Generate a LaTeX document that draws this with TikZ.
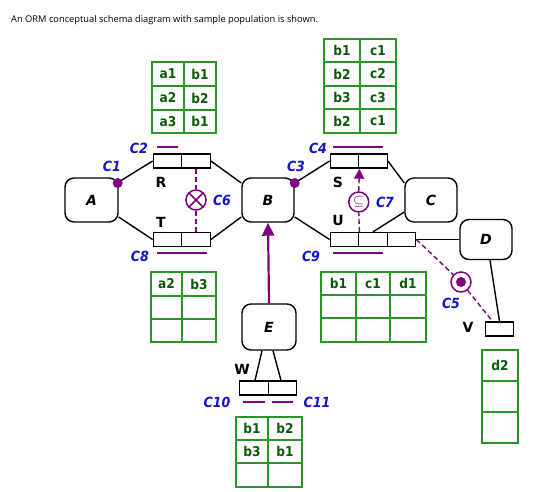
\documentclass[tikz,border=0pt]{standalone}
\usepackage{fontspec}
\setmainfont{DejaVu Sans}
\newfontfamily\titlefont{Open Sans}
\newfontfamily\condfont{DejaVu Sans Condensed}
\usetikzlibrary{arrows.meta,calc}
\definecolor{tabgreen}{RGB}{40,150,40}
\definecolor{txtgreen}{RGB}{10,90,10}
\definecolor{cpurple}{RGB}{128,0,128}
\definecolor{cblue}{RGB}{20,20,200}
\tikzset{
  objtype/.style={draw, rounded corners=9pt, line width=1.4pt, inner sep=0pt,
    font=\bfseries\itshape\fontsize{14}{14}\selectfont},
  role/.style={draw, line width=1.3pt, minimum width=28.5pt, minimum height=14pt, inner sep=0pt},
  conn/.style={line width=1.4pt},
  ucons/.style={cpurple, line width=2pt},
  dcons/.style={cpurple, line width=1.4pt, dash pattern=on 5pt off 3pt},
  clabel/.style={text=cblue, inner sep=0pt, font=\condfont\bfseries\itshape\fontsize{14}{14}\selectfont},
  rname/.style={inner sep=0pt, font=\bfseries\fontsize{14}{14}\selectfont},
  cell/.style={text=txtgreen, inner sep=0pt, font=\condfont\bfseries\fontsize{13.5}{13.5}\selectfont},
  tab/.style={draw=tabgreen, line width=1.5pt},
  mdot/.style={circle, fill=cpurple, minimum size=10pt, inner sep=0pt},
  ccirc/.style={circle, draw=cpurple, line width=1.5pt, minimum size=20pt, inner sep=0pt}
}
\begin{document}
\begin{tikzpicture}[x=1pt,y=-1pt]
\useasboundingbox (0,0) rectangle (548,491);
% title
\node[anchor=west, inner sep=0pt, font=\titlefont\fontsize{9.3}{9.3}\selectfont] (title) at (11,20)
  {An ORM conceptual schema diagram with sample population is shown.};

% object types
\node[objtype, minimum width=53pt, minimum height=44pt] (A) at (91.5,200) {A};
\node[objtype, minimum width=52pt, minimum height=44pt] (B) at (268,200) {B};
\node[objtype, minimum width=52pt, minimum height=44pt] (C) at (431,200) {C};
\node[objtype, minimum width=52pt, minimum height=40pt] (D) at (486,239.5) {D};
\node[objtype, minimum width=54pt, minimum height=46pt] (E) at (269,327) {E};

% roles
\node[role] (R1) at (167.5,161) {};
\node[role] (R2) at (196,161) {};
\node[role] (T1) at (167.5,239.5) {};
\node[role] (T2) at (196,239.5) {};
\node[role] (S1) at (344.5,161) {};
\node[role] (S2) at (373,161) {};
\node[role] (U1) at (344.5,239.5) {};
\node[role] (U2) at (373,239.5) {};
\node[role] (U3) at (401.5,239.5) {};
\node[role] (V1) at (499.5,329) {};
\node[role] (W1) at (254,388) {};
\node[role] (W2) at (282.5,388) {};

% role names
\node[rname] (nR) at (161,182) {R};
\node[rname] (nT) at (161,222) {T};
\node[rname] (nS) at (338,182) {S};
\node[rname] (nU) at (338,220) {U};
\node[rname] (nV) at (468,327) {V};
\node[rname] (nW) at (242,369) {W};

% connectors
\draw[conn] ($(A.east)+(0,-18)$) -- (R1.west);
\draw[conn] (R2.east) -- ($(B.west)+(0,-17)$);
\draw[conn] ($(A.east)+(0,17)$) -- (T1.west);
\draw[conn] (T2.east) -- ($(B.west)+(0,17)$);
\draw[conn] ($(B.east)+(0,-17)$) -- (S1.west);
\draw[conn] (S2.east) -- ($(C.west)+(0,-17)$);
\draw[conn] ($(B.east)+(0,17)$) -- (U1.west);
\draw[conn] (U2.north) -- ($(C.west)+(0,12)$);
\draw[conn] (U3.east) -- (U3.east -| D.west);
\draw[conn] ($(D.south)+(4,0)$) -- (V1.north);
\draw[conn] ($(E.south)+(-7,0)$) -- ($(W1.north)+(1,0)$);
\draw[conn] ($(E.south)+(4,0)$) -- ($(W2.north)+(-1.5,0)$);

% subtype arrow
\draw[cpurple, line width=2.2pt, -{Triangle[length=13pt,width=12pt]}] (E.north) -- (B.south);

% mandatory dots
\node[mdot] (C1dot) at ($(A.east)+(-1,-17)$) {};
\node[mdot] (C3dot) at ($(B.east)+(0,-17)$) {};

% uniqueness bars
\coordinate (c2a) at (157,147); \coordinate (c2b) at (178,147);
\draw[ucons] (c2a) -- (c2b);
\coordinate (c8a) at (157,253); \coordinate (c8b) at (207,253);
\draw[ucons] (c8a) -- (c8b);
\coordinate (c4a) at (333,147); \coordinate (c4b) at (383,147);
\draw[ucons] (c4a) -- (c4b);
\coordinate (c9a) at (333,253); \coordinate (c9b) at (383,253);
\draw[ucons] (c9a) -- (c9b);
\coordinate (c10a) at (243,402); \coordinate (c10b) at (265,402);
\draw[ucons] (c10a) -- (c10b);
\coordinate (c11a) at (272,402); \coordinate (c11b) at (293,402);
\draw[ucons] (c11a) -- (c11b);

% C6 exclusion
\node[ccirc] (c6) at (196,200) {};
\draw[cpurple, line width=1.5pt] (c6.north east) -- (c6.south west) (c6.north west) -- (c6.south east);
\draw[dcons] (R2.south) -- (c6.north);
\draw[dcons] (c6.south) -- (T2.north);

% C7 subset
\node[ccirc, text=cpurple, font=\fontsize{15}{15}\selectfont] (c7) at (358.75,202) {$\subseteq$};
\draw[dcons] (U1.north east) -- (c7.south);
\draw[dcons, -{Triangle[length=10pt,width=10pt]}] (c7.north) -- (S1.south east);

% C5
\node[ccirc] (c5) at (461,282) {};
\node[circle, fill=cpurple, minimum size=10pt, inner sep=0pt] (c5in) at (c5) {};
\draw[dcons] (U3.east) -- (c5);
\draw[dcons] (c5) -- ($(V1.north)+(-7,0)$);

% constraint labels
\node[clabel] (lC1) at (112,166) {C1};
\node[clabel] (lC2) at (139,148) {C2};
\node[clabel] (lC3) at (296,166) {C3};
\node[clabel] (lC4) at (318,148) {C4};
\node[clabel] (lC5) at (451,303) {C5};
\node[clabel] (lC6) at (222,200) {C6};
\node[clabel] (lC7) at (385,202) {C7};
\node[clabel] (lC8) at (140,256) {C8};
\node[clabel] (lC9) at (311,256) {C9};
\node[clabel] (lC10) at (217,402) {C10};
\node[clabel] (lC11) at (317,402) {C11};

% table R
\draw[tab] (152,62) rectangle (216,133);
\draw[tab] (184,62) -- (184,133);
\foreach \yy in {86,110} \draw[tab] (152,\yy) -- (216,\yy);
\node[cell] (r11) at (168,74) {a1};
\node[cell] (r12) at (200,74) {b1};
\node[cell] (r21) at (168,98) {a2};
\node[cell] (r22) at (200,98) {b2};
\node[cell] (r31) at (168,121.5) {a3};
\node[cell] (r32) at (200,121.5) {b1};

% table S
\draw[tab] (324,39) rectangle (396,133);
\draw[tab] (360,39) -- (360,133);
\foreach \yy in {62,86,109} \draw[tab] (324,\yy) -- (396,\yy);
\node[cell] (s11) at (342,50.5) {b1};
\node[cell] (s12) at (378,50.5) {c1};
\node[cell] (s21) at (342,74) {b2};
\node[cell] (s22) at (378,74) {c2};
\node[cell] (s31) at (342,97.5) {b3};
\node[cell] (s32) at (378,97.5) {c3};
\node[cell] (s41) at (342,121) {b2};
\node[cell] (s42) at (378,121) {c1};

% table T
\draw[tab] (151,272) rectangle (216,342);
\draw[tab] (182,272) -- (182,342);
\foreach \yy in {296,319} \draw[tab] (151,\yy) -- (216,\yy);
\node[cell] (tt11) at (166.5,284) {a2};
\node[cell] (tt12) at (199,284) {b3};

% table U
\draw[tab] (321,272) rectangle (426,342);
\foreach \xx in {356,390} \draw[tab] (\xx,272) -- (\xx,342);
\foreach \yy in {295,318} \draw[tab] (321,\yy) -- (426,\yy);
\node[cell] (u11) at (338.5,283.5) {b1};
\node[cell] (u12) at (373,283.5) {c1};
\node[cell] (u13) at (408,283.5) {d1};

% table V
\draw[tab] (482,350) rectangle (518,443);
\foreach \yy in {381,412} \draw[tab] (482,\yy) -- (518,\yy);
\node[cell] (v11) at (500,365.5) {d2};

% table W
\draw[tab] (236,417) rectangle (302,487);
\draw[tab] (268,417) -- (268,487);
\foreach \yy in {440,463} \draw[tab] (236,\yy) -- (302,\yy);
\node[cell] (w11) at (252,428.5) {b1};
\node[cell] (w12) at (285,428.5) {b2};
\node[cell] (w21) at (252,451.5) {b3};
\node[cell] (w22) at (285,451.5) {b1};
\end{tikzpicture}
\end{document}
